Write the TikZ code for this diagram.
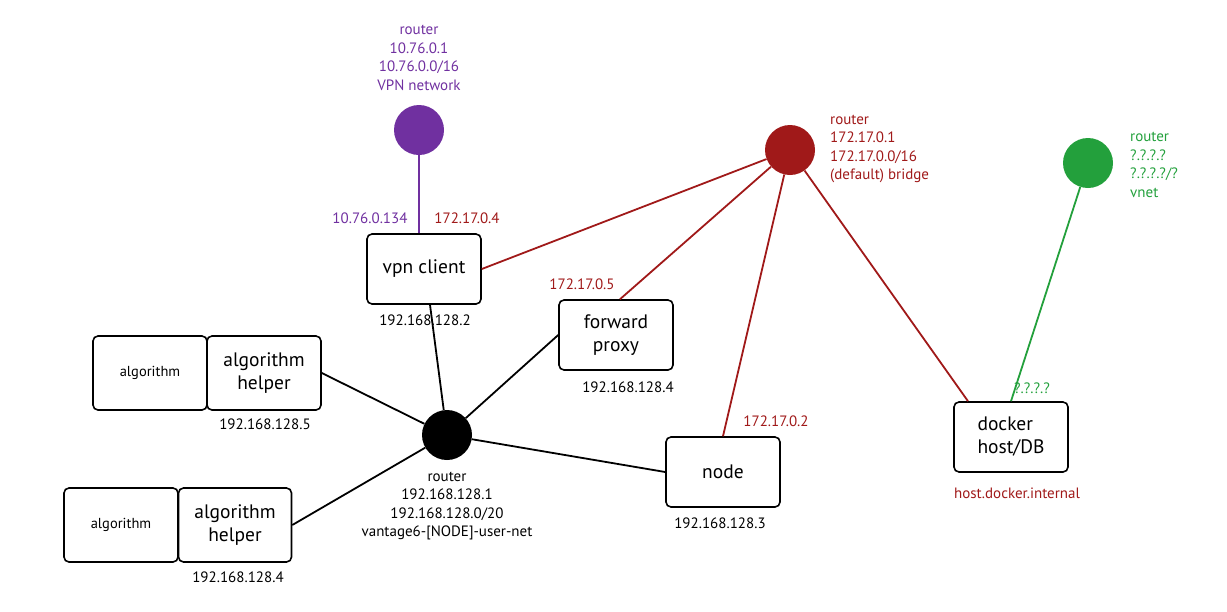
\documentclass[tikz,border=0pt]{standalone}
\usepackage{fontspec}
\setmainfont{PT Sans}
\begin{document}
\begin{tikzpicture}[x=1pt,y=-1pt,
  box/.style={draw,line width=1.6pt,rounded corners=5pt,minimum width=114pt,minimum height=70pt,align=center,font=\fontsize{19.5}{23}\selectfont},
  lbl/.style={font=\fontsize{15}{18.5}\selectfont,align=center,inner sep=0},
  con/.style={line width=1.8pt},
  dot/.style={circle,minimum size=50pt,inner sep=0}]
\definecolor{pur}{RGB}{112,48,160}
\definecolor{rd}{RGB}{160,25,25}
\definecolor{gr}{RGB}{35,160,60}
\useasboundingbox (0,0) rectangle (1227,611);
\node[dot,fill=pur] (vpnr) at (419,130) {};
\node[dot,fill=rd] (br) at (790,150) {};
\node[dot,fill=gr] (gr) at (1088,163) {};
\node[dot,fill=black] (ur) at (447,435) {};
\node[lbl,text=pur] (t1) at (419,58) {router\\10.76.0.1\\10.76.0.0/16\\VPN network};
\node[lbl,text=rd,align=left,anchor=west] (t2) at (830,149) {router\\172.17.0.1\\172.17.0.0/16\\(default) bridge};
\node[lbl,text=gr,align=left,anchor=west] (t3) at (1130,165) {router\\?.?.?.?\\?.?.?.?/?\\vnet};
\node[lbl] (t4) at (447,506) {router\\192.168.128.1\\192.168.128.0/20\\vantage6-[NODE]-user-net};
\node[box] (vpn) at (424,269) {vpn client};
\node[box] (fp) at (616,335) {forward\\proxy};
\node[box] (nd) at (723,472) {node};
\node[box,align=left] (dk) at (1011,437) {docker\\host/DB};
\node[box,minimum height=74pt,font=\fontsize{14.5}{17}\selectfont] (a1) at (150,373) {algorithm};
\node[box,minimum height=74pt] (h1) at (264,373) {algorithm\\helper};
\node[box,minimum height=74pt,font=\fontsize{14.5}{17}\selectfont] (a2) at (121,525) {algorithm};
\node[box,minimum height=74pt,minimum width=113pt] (h2) at (235,525) {algorithm\\helper};
\node[lbl] (i1) at (425,320) {192.168.128.2};
\node[lbl,text=pur] (i2) at (370,218) {10.76.0.134};
\node[lbl,text=rd] (i3) at (467,218) {172.17.0.4};
\node[lbl] (i4) at (628,387) {192.168.128.4};
\node[lbl,text=rd] (i5) at (582,284) {172.17.0.5};
\node[lbl] (i6) at (720,523) {192.168.128.3};
\node[lbl,text=rd] (i7) at (776,421) {172.17.0.2};
\node[lbl,text=rd] (i8) at (1017,493) {host.docker.internal};
\node[lbl,text=gr] (i9) at (1032,388) {?.?.?.?};
\node[lbl] (i10) at (265,424) {192.168.128.5};
\node[lbl] (i11) at (238,577) {192.168.128.4};
\draw[con,pur] (vpnr) -- (vpnr|-vpn.north);
\draw[con,rd] (br) -- (vpn.east);
\draw[con,rd] (br) -- ([xshift=4pt]fp.north);
\draw[con,rd] (br) -- (nd.north);
\draw[con,rd] (br) -- ([xshift=-43pt]dk.north);
\draw[con,gr] (gr) -- (dk.north);
\draw[con] ([xshift=6pt]vpn.south) -- (ur);
\draw[con] (h1.east) -- (ur);
\draw[con] (h2.east) -- (ur);
\draw[con] (fp.west) -- (ur);
\draw[con] (nd.west) -- (ur);
\end{tikzpicture}
\end{document}
